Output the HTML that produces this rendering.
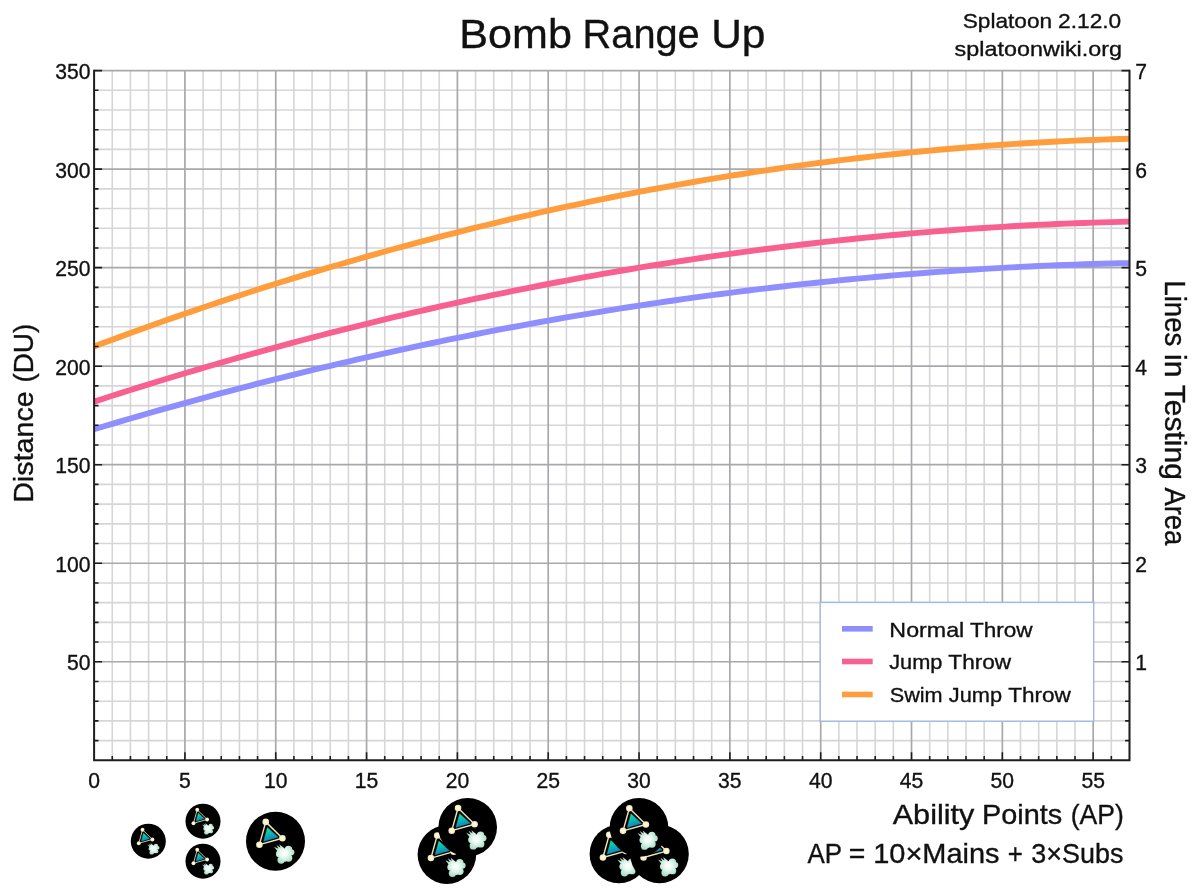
<!DOCTYPE html>
<html><head><meta charset="utf-8"><title>Bomb Range Up</title>
<style>
html,body{margin:0;padding:0;background:#fff;}
body{width:1200px;height:892px;overflow:hidden;}
svg{display:block;filter:blur(0.4px);}
text{font-family:"Liberation Sans",sans-serif;fill:#111;stroke:#111;stroke-width:0.35px;}
</style></head><body>
<svg width="1200" height="892" viewBox="0 0 1200 892">
<defs>
<linearGradient id="teal" gradientUnits="userSpaceOnUse" x1="-0.27" y1="-0.46" x2="-0.12" y2="0.02">
<stop offset="0" stop-color="#14e2a8"/><stop offset="0.5" stop-color="#0cb0b6"/><stop offset="1" stop-color="#1670b4"/>
</linearGradient>
<radialGradient id="puff" gradientUnits="userSpaceOnUse" cx="0.30" cy="0.41" r="0.36">
<stop offset="0" stop-color="#ffffff"/><stop offset="0.3" stop-color="#f2fbf7"/><stop offset="0.75" stop-color="#bfe8d7"/><stop offset="1" stop-color="#a5dcc6"/>
</radialGradient>
<radialGradient id="node" cx="0.5" cy="0.5" r="0.5">
<stop offset="0" stop-color="#fffef2"/><stop offset="0.6" stop-color="#faf3d0"/><stop offset="1" stop-color="#efe3ae"/>
</radialGradient>
<g id="bomb">
<circle r="1" fill="#000"/>
<path d="M-0.33,-0.655 L0.235,-0.1 L-0.545,0.118 Z" stroke="#f0e5b4" stroke-width="0.048" stroke-linejoin="round" fill="none"/>
<path d="M-0.275,-0.462 L0.092,-0.135 L-0.405,0.008 Z" fill="url(#teal)" stroke="url(#teal)" stroke-width="0.012" stroke-linejoin="round"/>
<circle cx="-0.33" cy="-0.655" r="0.112" fill="url(#node)"/>
<circle cx="0.235" cy="-0.1" r="0.112" fill="url(#node)"/>
<circle cx="-0.545" cy="0.118" r="0.112" fill="url(#node)"/>
<g fill="url(#puff)">
<path d="M-0.05,0.19 L0.08,0.36 L0.2,0.3 Z M0.03,0.125 L0.14,0.33 L0.25,0.27 Z M0.125,0.105 L0.2,0.3 L0.3,0.24 Z"/>
<circle cx="0.44" cy="0.275" r="0.125"/>
<circle cx="0.535" cy="0.375" r="0.105"/>
<circle cx="0.445" cy="0.57" r="0.125"/>
<circle cx="0.19" cy="0.64" r="0.125"/>
<circle cx="0.13" cy="0.43" r="0.115"/>
<circle cx="0.2" cy="0.32" r="0.1"/>
<circle cx="0.31" cy="0.43" r="0.19"/>
<circle cx="0.3" cy="0.6" r="0.1"/>
</g>
</g>
</defs>
<rect width="1200" height="892" fill="#fff"/>

<g stroke="#d6d6d9" stroke-width="1.6" fill="none">
<path d="M112.26,70.6 V760.3 M130.43,70.6 V760.3 M148.59,70.6 V760.3 M166.76,70.6 V760.3 M203.09,70.6 V760.3 M221.25,70.6 V760.3 M239.42,70.6 V760.3 M257.58,70.6 V760.3 M293.91,70.6 V760.3 M312.08,70.6 V760.3 M330.24,70.6 V760.3 M348.41,70.6 V760.3 M384.74,70.6 V760.3 M402.9,70.6 V760.3 M421.07,70.6 V760.3 M439.23,70.6 V760.3 M475.56,70.6 V760.3 M493.73,70.6 V760.3 M511.89,70.6 V760.3 M530.06,70.6 V760.3 M566.39,70.6 V760.3 M584.55,70.6 V760.3 M602.72,70.6 V760.3 M620.88,70.6 V760.3 M657.21,70.6 V760.3 M675.38,70.6 V760.3 M693.54,70.6 V760.3 M711.71,70.6 V760.3 M748.04,70.6 V760.3 M766.2,70.6 V760.3 M784.37,70.6 V760.3 M802.53,70.6 V760.3 M838.86,70.6 V760.3 M857.03,70.6 V760.3 M875.19,70.6 V760.3 M893.36,70.6 V760.3 M929.69,70.6 V760.3 M947.85,70.6 V760.3 M966.02,70.6 V760.3 M984.18,70.6 V760.3 M1020.51,70.6 V760.3 M1038.68,70.6 V760.3 M1056.84,70.6 V760.3 M1075.01,70.6 V760.3 M1111.34,70.6 V760.3 M1129.5,70.6 V760.3 M94.1,740.59 H1129.5 M94.1,720.89 H1129.5 M94.1,701.18 H1129.5 M94.1,681.48 H1129.5 M94.1,642.07 H1129.5 M94.1,622.36 H1129.5 M94.1,602.65 H1129.5 M94.1,582.95 H1129.5 M94.1,543.54 H1129.5 M94.1,523.83 H1129.5 M94.1,504.13 H1129.5 M94.1,484.42 H1129.5 M94.1,445.01 H1129.5 M94.1,425.3 H1129.5 M94.1,405.6 H1129.5 M94.1,385.89 H1129.5 M94.1,346.48 H1129.5 M94.1,326.77 H1129.5 M94.1,307.07 H1129.5 M94.1,287.36 H1129.5 M94.1,247.95 H1129.5 M94.1,228.25 H1129.5 M94.1,208.54 H1129.5 M94.1,188.83 H1129.5 M94.1,149.42 H1129.5 M94.1,129.72 H1129.5 M94.1,110.01 H1129.5 M94.1,90.31 H1129.5"/>
</g>
<g stroke="#a8a8ad" stroke-width="1.7" fill="none">
<path d="M184.92,70.6 V760.3 M275.75,70.6 V760.3 M366.57,70.6 V760.3 M457.4,70.6 V760.3 M548.22,70.6 V760.3 M639.05,70.6 V760.3 M729.87,70.6 V760.3 M820.7,70.6 V760.3 M911.52,70.6 V760.3 M1002.35,70.6 V760.3 M1093.17,70.6 V760.3 M94.1,661.77 H1129.5 M94.1,563.24 H1129.5 M94.1,464.71 H1129.5 M94.1,366.19 H1129.5 M94.1,267.66 H1129.5 M94.1,169.13 H1129.5 M94.1,70.6 H1129.5"/>
</g>
<polyline points="94.1,429.24 103.18,426.52 112.26,423.83 121.35,421.15 130.43,418.5 139.51,415.87 148.59,413.26 157.68,410.67 166.76,408.11 175.84,405.57 184.92,403.05 194.01,400.55 203.09,398.08 212.17,395.63 221.25,393.2 230.34,390.79 239.42,388.4 248.5,386.04 257.58,383.7 266.67,381.38 275.75,379.09 284.83,376.82 293.91,374.57 303,372.34 312.08,370.13 321.16,367.95 330.24,365.79 339.33,363.65 348.41,361.53 357.49,359.44 366.57,357.36 375.66,355.31 384.74,353.29 393.82,351.28 402.9,349.3 411.99,347.34 421.07,345.4 430.15,343.49 439.23,341.59 448.32,339.72 457.4,337.87 466.48,336.05 475.56,334.24 484.65,332.46 493.73,330.7 502.81,328.97 511.89,327.25 520.98,325.56 530.06,323.89 539.14,322.24 548.22,320.62 557.31,319.01 566.39,317.43 575.47,315.88 584.55,314.34 593.64,312.83 602.72,311.34 611.8,309.87 620.88,308.42 629.96,307 639.05,305.59 648.13,304.22 657.21,302.86 666.29,301.52 675.38,300.21 684.46,298.92 693.54,297.65 702.62,296.41 711.71,295.19 720.79,293.99 729.87,292.81 738.95,291.65 748.04,290.52 757.12,289.41 766.2,288.32 775.28,287.25 784.37,286.21 793.45,285.19 802.53,284.19 811.61,283.21 820.7,282.26 829.78,281.32 838.86,280.41 847.94,279.53 857.03,278.66 866.11,277.82 875.19,277 884.27,276.2 893.36,275.42 902.44,274.67 911.52,273.94 920.6,273.23 929.69,272.54 938.77,271.88 947.85,271.24 956.93,270.62 966.02,270.02 975.1,269.44 984.18,268.89 993.26,268.36 1002.35,267.85 1011.43,267.37 1020.51,266.91 1029.59,266.47 1038.68,266.05 1047.76,265.65 1056.84,265.28 1065.92,264.93 1075.01,264.6 1084.09,264.29 1093.17,264.01 1102.25,263.74 1111.34,263.5 1120.42,263.29 1129.5,263.09" fill="none" stroke="#8e8eff" stroke-width="5.9" stroke-linejoin="round"/>
<polyline points="94.1,401.66 103.18,398.71 112.26,395.79 121.35,392.89 130.43,390.01 139.51,387.16 148.59,384.34 157.68,381.54 166.76,378.76 175.84,376.01 184.92,373.28 194.01,370.57 203.09,367.89 212.17,365.24 221.25,362.61 230.34,360 239.42,357.41 248.5,354.85 257.58,352.32 266.67,349.81 275.75,347.32 284.83,344.86 293.91,342.42 303,340.01 312.08,337.62 321.16,335.25 330.24,332.91 339.33,330.59 348.41,328.3 357.49,326.03 366.57,323.79 375.66,321.56 384.74,319.37 393.82,317.2 402.9,315.05 411.99,312.93 421.07,310.83 430.15,308.75 439.23,306.7 448.32,304.67 457.4,302.67 466.48,300.69 475.56,298.74 484.65,296.81 493.73,294.9 502.81,293.02 511.89,291.16 520.98,289.33 530.06,287.52 539.14,285.74 548.22,283.98 557.31,282.24 566.39,280.53 575.47,278.84 584.55,277.18 593.64,275.54 602.72,273.92 611.8,272.33 620.88,270.76 629.96,269.22 639.05,267.7 648.13,266.21 657.21,264.74 666.29,263.29 675.38,261.87 684.46,260.47 693.54,259.1 702.62,257.75 711.71,256.43 720.79,255.13 729.87,253.85 738.95,252.6 748.04,251.37 757.12,250.17 766.2,248.99 775.28,247.83 784.37,246.7 793.45,245.59 802.53,244.51 811.61,243.45 820.7,242.42 829.78,241.41 838.86,240.42 847.94,239.46 857.03,238.52 866.11,237.61 875.19,236.72 884.27,235.86 893.36,235.02 902.44,234.2 911.52,233.41 920.6,232.64 929.69,231.9 938.77,231.18 947.85,230.48 956.93,229.81 966.02,229.16 975.1,228.54 984.18,227.94 993.26,227.37 1002.35,226.82 1011.43,226.29 1020.51,225.79 1029.59,225.31 1038.68,224.86 1047.76,224.43 1056.84,224.03 1065.92,223.64 1075.01,223.29 1084.09,222.96 1093.17,222.65 1102.25,222.36 1111.34,222.1 1120.42,221.87 1129.5,221.66" fill="none" stroke="#f8608f" stroke-width="5.9" stroke-linejoin="round"/>
<polyline points="94.1,346.48 103.18,343.08 112.26,339.71 121.35,336.36 130.43,333.05 139.51,329.76 148.59,326.5 157.68,323.27 166.76,320.06 175.84,316.89 184.92,313.74 194.01,310.62 203.09,307.52 212.17,304.46 221.25,301.42 230.34,298.41 239.42,295.43 248.5,292.48 257.58,289.55 266.67,286.66 275.75,283.79 284.83,280.94 293.91,278.13 303,275.35 312.08,272.59 321.16,269.86 330.24,267.16 339.33,264.48 348.41,261.84 357.49,259.22 366.57,256.63 375.66,254.07 384.74,251.53 393.82,249.03 402.9,246.55 411.99,244.1 421.07,241.68 430.15,239.28 439.23,236.91 448.32,234.58 457.4,232.27 466.48,229.98 475.56,227.73 484.65,225.5 493.73,223.3 502.81,221.13 511.89,218.99 520.98,216.87 530.06,214.79 539.14,212.73 548.22,210.7 557.31,208.69 566.39,206.72 575.47,204.77 584.55,202.85 593.64,200.96 602.72,199.09 611.8,197.26 620.88,195.45 629.96,193.67 639.05,191.92 648.13,190.19 657.21,188.5 666.29,186.83 675.38,185.19 684.46,183.58 693.54,181.99 702.62,180.44 711.71,178.91 720.79,177.41 729.87,175.93 738.95,174.49 748.04,173.07 757.12,171.68 766.2,170.32 775.28,168.99 784.37,167.68 793.45,166.41 802.53,165.16 811.61,163.94 820.7,162.74 829.78,161.58 838.86,160.44 847.94,159.33 857.03,158.25 866.11,157.2 875.19,156.17 884.27,155.17 893.36,154.2 902.44,153.26 911.52,152.35 920.6,151.46 929.69,150.6 938.77,149.77 947.85,148.97 956.93,148.2 966.02,147.45 975.1,146.73 984.18,146.04 993.26,145.38 1002.35,144.74 1011.43,144.14 1020.51,143.56 1029.59,143.01 1038.68,142.48 1047.76,141.99 1056.84,141.52 1065.92,141.08 1075.01,140.67 1084.09,140.29 1093.17,139.93 1102.25,139.6 1111.34,139.31 1120.42,139.03 1129.5,138.79" fill="none" stroke="#ff9d3c" stroke-width="5.9" stroke-linejoin="round"/>
<rect x="820.2" y="602.4" width="273.5" height="118.8" fill="#fff" stroke="#9db9e3" stroke-width="1.4"/>
<line x1="842" y1="628.8" x2="872.7" y2="628.8" stroke="#8e8eff" stroke-width="5.6"/>
<line x1="842" y1="661.5" x2="872.7" y2="661.5" stroke="#f8608f" stroke-width="5.6"/>
<line x1="842" y1="694.5" x2="872.7" y2="694.5" stroke="#ff9d3c" stroke-width="5.6"/>
<path d="M94.1,69.8 V760.3 H1129.5 V69.8" fill="none" stroke="#1e1e1e" stroke-width="2" stroke-linejoin="miter"/>
<path d="M94.1,740.59 h4.4 M1129.5,740.59 h-4.4 M94.1,720.89 h4.4 M1129.5,720.89 h-4.4 M94.1,701.18 h4.4 M1129.5,701.18 h-4.4 M94.1,681.48 h4.4 M1129.5,681.48 h-4.4 M94.1,661.77 h8 M1129.5,661.77 h-8 M94.1,642.07 h4.4 M1129.5,642.07 h-4.4 M94.1,622.36 h4.4 M1129.5,622.36 h-4.4 M94.1,602.65 h4.4 M1129.5,602.65 h-4.4 M94.1,582.95 h4.4 M1129.5,582.95 h-4.4 M94.1,563.24 h8 M1129.5,563.24 h-8 M94.1,543.54 h4.4 M1129.5,543.54 h-4.4 M94.1,523.83 h4.4 M1129.5,523.83 h-4.4 M94.1,504.13 h4.4 M1129.5,504.13 h-4.4 M94.1,484.42 h4.4 M1129.5,484.42 h-4.4 M94.1,464.71 h8 M1129.5,464.71 h-8 M94.1,445.01 h4.4 M1129.5,445.01 h-4.4 M94.1,425.3 h4.4 M1129.5,425.3 h-4.4 M94.1,405.6 h4.4 M1129.5,405.6 h-4.4 M94.1,385.89 h4.4 M1129.5,385.89 h-4.4 M94.1,366.19 h8 M1129.5,366.19 h-8 M94.1,346.48 h4.4 M1129.5,346.48 h-4.4 M94.1,326.77 h4.4 M1129.5,326.77 h-4.4 M94.1,307.07 h4.4 M1129.5,307.07 h-4.4 M94.1,287.36 h4.4 M1129.5,287.36 h-4.4 M94.1,267.66 h8 M1129.5,267.66 h-8 M94.1,247.95 h4.4 M1129.5,247.95 h-4.4 M94.1,228.25 h4.4 M1129.5,228.25 h-4.4 M94.1,208.54 h4.4 M1129.5,208.54 h-4.4 M94.1,188.83 h4.4 M1129.5,188.83 h-4.4 M94.1,169.13 h8 M1129.5,169.13 h-8 M94.1,149.42 h4.4 M1129.5,149.42 h-4.4 M94.1,129.72 h4.4 M1129.5,129.72 h-4.4 M94.1,110.01 h4.4 M1129.5,110.01 h-4.4 M94.1,90.31 h4.4 M1129.5,90.31 h-4.4 M94.1,70.6 h8 M1129.5,70.6 h-8 M112.26,760.3 v-4.4 M130.43,760.3 v-4.4 M148.59,760.3 v-4.4 M166.76,760.3 v-4.4 M184.92,760.3 v-8 M203.09,760.3 v-4.4 M221.25,760.3 v-4.4 M239.42,760.3 v-4.4 M257.58,760.3 v-4.4 M275.75,760.3 v-8 M293.91,760.3 v-4.4 M312.08,760.3 v-4.4 M330.24,760.3 v-4.4 M348.41,760.3 v-4.4 M366.57,760.3 v-8 M384.74,760.3 v-4.4 M402.9,760.3 v-4.4 M421.07,760.3 v-4.4 M439.23,760.3 v-4.4 M457.4,760.3 v-8 M475.56,760.3 v-4.4 M493.73,760.3 v-4.4 M511.89,760.3 v-4.4 M530.06,760.3 v-4.4 M548.22,760.3 v-8 M566.39,760.3 v-4.4 M584.55,760.3 v-4.4 M602.72,760.3 v-4.4 M620.88,760.3 v-4.4 M639.05,760.3 v-8 M657.21,760.3 v-4.4 M675.38,760.3 v-4.4 M693.54,760.3 v-4.4 M711.71,760.3 v-4.4 M729.87,760.3 v-8 M748.04,760.3 v-4.4 M766.2,760.3 v-4.4 M784.37,760.3 v-4.4 M802.53,760.3 v-4.4 M820.7,760.3 v-8 M838.86,760.3 v-4.4 M857.03,760.3 v-4.4 M875.19,760.3 v-4.4 M893.36,760.3 v-4.4 M911.52,760.3 v-8 M929.69,760.3 v-4.4 M947.85,760.3 v-4.4 M966.02,760.3 v-4.4 M984.18,760.3 v-4.4 M1002.35,760.3 v-8 M1020.51,760.3 v-4.4 M1038.68,760.3 v-4.4 M1056.84,760.3 v-4.4 M1075.01,760.3 v-4.4 M1093.17,760.3 v-8 M1111.34,760.3 v-4.4" fill="none" stroke="#1e1e1e" stroke-width="1.6"/>
<text x="90.6" y="670.17" font-size="22.2" text-anchor="end" textLength="23.5" lengthAdjust="spacingAndGlyphs">50</text>
<text x="90.6" y="571.64" font-size="22.2" text-anchor="end" textLength="35.25" lengthAdjust="spacingAndGlyphs">100</text>
<text x="90.6" y="473.11" font-size="22.2" text-anchor="end" textLength="35.25" lengthAdjust="spacingAndGlyphs">150</text>
<text x="90.6" y="374.59" font-size="22.2" text-anchor="end" textLength="35.25" lengthAdjust="spacingAndGlyphs">200</text>
<text x="90.6" y="276.06" font-size="22.2" text-anchor="end" textLength="35.25" lengthAdjust="spacingAndGlyphs">250</text>
<text x="90.6" y="177.53" font-size="22.2" text-anchor="end" textLength="35.25" lengthAdjust="spacingAndGlyphs">300</text>
<text x="90.6" y="79" font-size="22.2" text-anchor="end" textLength="35.25" lengthAdjust="spacingAndGlyphs">350</text>
<text x="1135.2" y="670.17" font-size="22.2" text-anchor="start" textLength="11.75" lengthAdjust="spacingAndGlyphs">1</text>
<text x="1135.2" y="571.64" font-size="22.2" text-anchor="start" textLength="11.75" lengthAdjust="spacingAndGlyphs">2</text>
<text x="1135.2" y="473.11" font-size="22.2" text-anchor="start" textLength="11.75" lengthAdjust="spacingAndGlyphs">3</text>
<text x="1135.2" y="374.59" font-size="22.2" text-anchor="start" textLength="11.75" lengthAdjust="spacingAndGlyphs">4</text>
<text x="1135.2" y="276.06" font-size="22.2" text-anchor="start" textLength="11.75" lengthAdjust="spacingAndGlyphs">5</text>
<text x="1135.2" y="177.53" font-size="22.2" text-anchor="start" textLength="11.75" lengthAdjust="spacingAndGlyphs">6</text>
<text x="1135.2" y="79" font-size="22.2" text-anchor="start" textLength="11.75" lengthAdjust="spacingAndGlyphs">7</text>
<text x="94.1" y="787.6" font-size="22.2" text-anchor="middle" textLength="11.75" lengthAdjust="spacingAndGlyphs">0</text>
<text x="184.92" y="787.6" font-size="22.2" text-anchor="middle" textLength="11.75" lengthAdjust="spacingAndGlyphs">5</text>
<text x="275.75" y="787.6" font-size="22.2" text-anchor="middle" textLength="23.5" lengthAdjust="spacingAndGlyphs">10</text>
<text x="366.57" y="787.6" font-size="22.2" text-anchor="middle" textLength="23.5" lengthAdjust="spacingAndGlyphs">15</text>
<text x="457.4" y="787.6" font-size="22.2" text-anchor="middle" textLength="23.5" lengthAdjust="spacingAndGlyphs">20</text>
<text x="548.22" y="787.6" font-size="22.2" text-anchor="middle" textLength="23.5" lengthAdjust="spacingAndGlyphs">25</text>
<text x="639.05" y="787.6" font-size="22.2" text-anchor="middle" textLength="23.5" lengthAdjust="spacingAndGlyphs">30</text>
<text x="729.87" y="787.6" font-size="22.2" text-anchor="middle" textLength="23.5" lengthAdjust="spacingAndGlyphs">35</text>
<text x="820.7" y="787.6" font-size="22.2" text-anchor="middle" textLength="23.5" lengthAdjust="spacingAndGlyphs">40</text>
<text x="911.52" y="787.6" font-size="22.2" text-anchor="middle" textLength="23.5" lengthAdjust="spacingAndGlyphs">45</text>
<text x="1002.35" y="787.6" font-size="22.2" text-anchor="middle" textLength="23.5" lengthAdjust="spacingAndGlyphs">50</text>
<text x="1093.17" y="787.6" font-size="22.2" text-anchor="middle" textLength="23.5" lengthAdjust="spacingAndGlyphs">55</text>
<text y="48.2" font-size="41.5" stroke-width="0.5"><tspan x="459.34" textLength="112.51" lengthAdjust="spacingAndGlyphs">Bomb</tspan> <tspan x="582.6" textLength="117.12" lengthAdjust="spacingAndGlyphs">Range</tspan> <tspan x="711.15" textLength="54.27" lengthAdjust="spacingAndGlyphs">Up</tspan></text>
<text y="27.8" font-size="20.8"><tspan x="962.69" textLength="89.38" lengthAdjust="spacingAndGlyphs">Splatoon</tspan> <tspan x="1058.14" textLength="63.13" lengthAdjust="spacingAndGlyphs">2.12.0</tspan></text>
<text y="56.4" font-size="20.8"><tspan x="954.64" textLength="167.38" lengthAdjust="spacingAndGlyphs">splatoonwiki.org</tspan></text>
<text y="824.2" font-size="27.9"><tspan x="892.7" textLength="81.7" lengthAdjust="spacingAndGlyphs">Ability</tspan> <tspan x="981.94" textLength="80.26" lengthAdjust="spacingAndGlyphs">Points</tspan> <tspan x="1070.76" textLength="53.12" lengthAdjust="spacingAndGlyphs">(AP)</tspan></text>
<text y="863" font-size="27.9"><tspan x="807.5" textLength="34.07" lengthAdjust="spacingAndGlyphs">AP</tspan> <tspan x="848.67" textLength="16.59" lengthAdjust="spacingAndGlyphs">=</tspan> <tspan x="873.19" textLength="126.42" lengthAdjust="spacingAndGlyphs">10×Mains</tspan> <tspan x="1007.69" textLength="15.07" lengthAdjust="spacingAndGlyphs">+</tspan> <tspan x="1031.36" textLength="91.98" lengthAdjust="spacingAndGlyphs">3×Subs</tspan></text>
<text y="636.7" font-size="20.6"><tspan x="889.39" textLength="74.85" lengthAdjust="spacingAndGlyphs">Normal</tspan> <tspan x="969.95" textLength="62.68" lengthAdjust="spacingAndGlyphs">Throw</tspan></text>
<text y="669.2" font-size="20.6"><tspan x="889.16" textLength="53.22" lengthAdjust="spacingAndGlyphs">Jump</tspan> <tspan x="948.35" textLength="62.78" lengthAdjust="spacingAndGlyphs">Throw</tspan></text>
<text y="702.2" font-size="20.6"><tspan x="889.72" textLength="52.9" lengthAdjust="spacingAndGlyphs">Swim</tspan> <tspan x="948.86" textLength="53.22" lengthAdjust="spacingAndGlyphs">Jump</tspan> <tspan x="1008.15" textLength="62.68" lengthAdjust="spacingAndGlyphs">Throw</tspan></text>
<g transform="translate(33,0) rotate(-90)"><text y="0" font-size="28.1"><tspan x="-502.84" textLength="111.5" lengthAdjust="spacingAndGlyphs">Distance</tspan> <tspan x="-382.61" textLength="58.85" lengthAdjust="spacingAndGlyphs">(DU)</tspan></text></g>
<g transform="translate(1165.4,0) rotate(90)"><text y="0" font-size="28.8"><tspan x="280.45" textLength="65.81" lengthAdjust="spacingAndGlyphs">Lines</tspan> <tspan x="354.02" textLength="23.36" lengthAdjust="spacingAndGlyphs">in</tspan> <tspan x="384.83" textLength="95.05" lengthAdjust="spacingAndGlyphs">Testing</tspan> <tspan x="487.4" textLength="57.93" lengthAdjust="spacingAndGlyphs">Area</tspan></text></g>
<use href="#bomb" transform="translate(148.3,841.2) scale(17.5)"/>
<use href="#bomb" transform="translate(203,821.2) scale(17.5)"/>
<use href="#bomb" transform="translate(203,861.2) scale(17.5)"/>
<use href="#bomb" transform="translate(275.5,841.2) scale(29.5)"/>
<use href="#bomb" transform="translate(446.9,854.6) scale(29.3)"/>
<use href="#bomb" transform="translate(467.7,827.2) scale(29.3)"/>
<use href="#bomb" transform="translate(618.9,854) scale(29.3)"/>
<use href="#bomb" transform="translate(659.5,854) scale(29.3)"/>
<use href="#bomb" transform="translate(639,827.4) scale(29.3)"/>
</svg></body></html>
